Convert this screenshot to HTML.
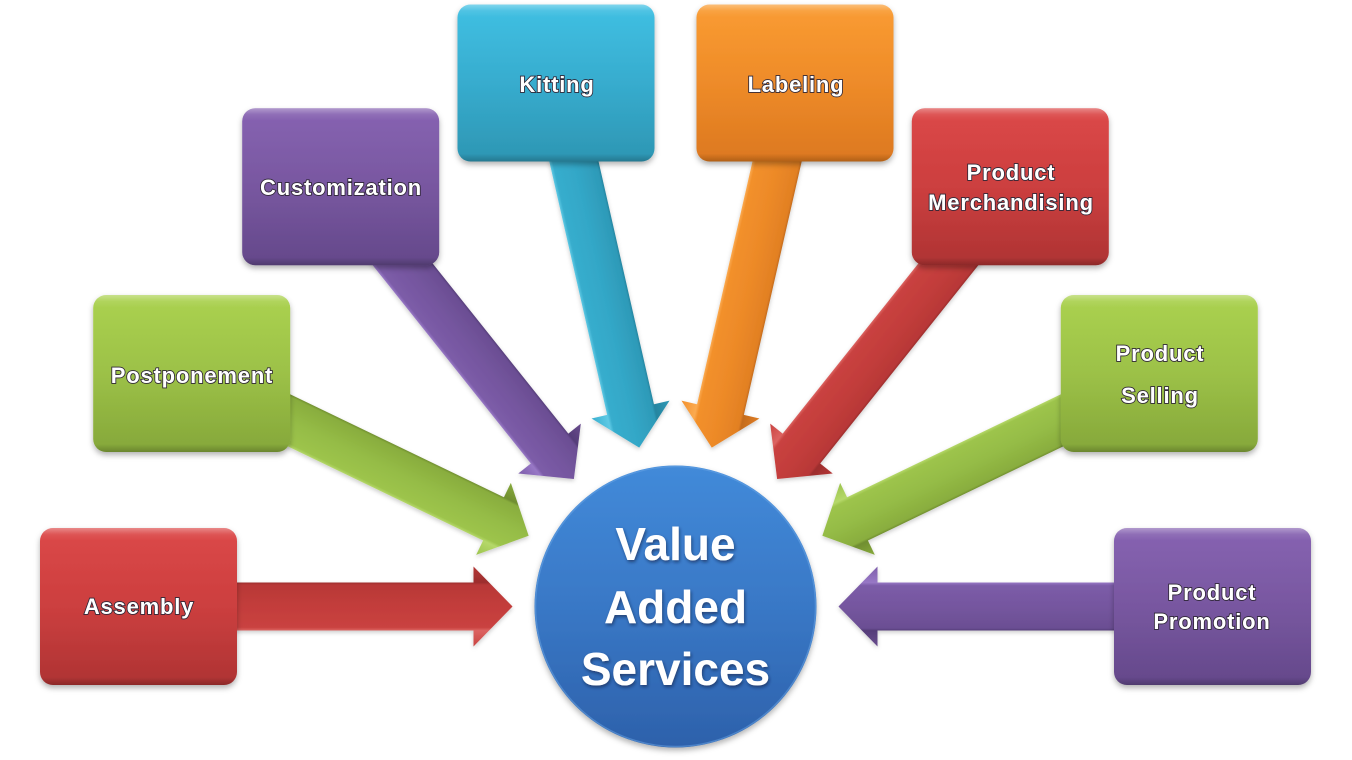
<!DOCTYPE html>
<html><head><meta charset="utf-8">
<style>
html,body{margin:0;padding:0;background:#ffffff;}
svg{display:block;}
.lbl{font-family:"Liberation Sans",Arial,sans-serif;font-weight:bold;font-size:22px;fill:#ffffff;stroke:#2e2636;stroke-width:1.7px;paint-order:stroke;letter-spacing:0.8px;text-anchor:middle;}
.big{font-family:"Liberation Sans",Arial,sans-serif;font-weight:bold;font-size:46px;fill:#ffffff;text-anchor:middle;}
</style></head><body>
<svg width="1352" height="760" viewBox="0 0 1352 760" xmlns="http://www.w3.org/2000/svg">
<defs>
  <filter id="sh" x="-20%" y="-20%" width="140%" height="150%">
    <feDropShadow dx="0" dy="3" stdDeviation="3" flood-color="#000" flood-opacity="0.3"/>
  </filter>
  <filter id="ash" x="-20%" y="-40%" width="140%" height="180%">
    <feDropShadow dx="0" dy="2" stdDeviation="2" flood-color="#000" flood-opacity="0.2"/>
  </filter>
  <filter id="tsh" x="-10%" y="-10%" width="120%" height="130%">
    <feDropShadow dx="1" dy="2" stdDeviation="1.5" flood-color="#0a2040" flood-opacity="0.6"/>
  </filter>

  <linearGradient id="aRed" gradientUnits="userSpaceOnUse" x1="0" y1="-40" x2="0" y2="40">
    <stop offset="0" stop-color="#c94341"/><stop offset="0.2" stop-color="#dc6361"/><stop offset="0.24" stop-color="#c94240"/>
    <stop offset="0.5" stop-color="#c33d3b"/><stop offset="0.77" stop-color="#b83837"/><stop offset="0.8" stop-color="#9c2d2d"/><stop offset="1" stop-color="#b43635"/>
  </linearGradient>
  <linearGradient id="aGreen" gradientUnits="userSpaceOnUse" x1="0" y1="-40" x2="0" y2="40">
    <stop offset="0" stop-color="#9cc44e"/><stop offset="0.2" stop-color="#b5d869"/><stop offset="0.24" stop-color="#9dc44c"/>
    <stop offset="0.5" stop-color="#95bc46"/><stop offset="0.77" stop-color="#89ad3e"/><stop offset="0.8" stop-color="#708e30"/><stop offset="1" stop-color="#88ab3d"/>
  </linearGradient>
  <linearGradient id="aPurple" gradientUnits="userSpaceOnUse" x1="0" y1="-40" x2="0" y2="40">
    <stop offset="0" stop-color="#7d5daa"/><stop offset="0.2" stop-color="#9878c6"/><stop offset="0.24" stop-color="#7c5ca8"/>
    <stop offset="0.5" stop-color="#75569f"/><stop offset="0.77" stop-color="#6b4e93"/><stop offset="0.8" stop-color="#553d79"/><stop offset="1" stop-color="#694c8e"/>
  </linearGradient>
  <linearGradient id="aTeal" gradientUnits="userSpaceOnUse" x1="0" y1="-40" x2="0" y2="40">
    <stop offset="0" stop-color="#38afcf"/><stop offset="0.2" stop-color="#5fc9e4"/><stop offset="0.24" stop-color="#37adcd"/>
    <stop offset="0.5" stop-color="#33a7c7"/><stop offset="0.77" stop-color="#2e9ab8"/><stop offset="0.8" stop-color="#2585a0"/><stop offset="1" stop-color="#2e98b5"/>
  </linearGradient>
  <linearGradient id="aOrange" gradientUnits="userSpaceOnUse" x1="0" y1="-40" x2="0" y2="40">
    <stop offset="0" stop-color="#f2902c"/><stop offset="0.2" stop-color="#fbaa50"/><stop offset="0.24" stop-color="#f2902b"/>
    <stop offset="0.5" stop-color="#ed8a28"/><stop offset="0.77" stop-color="#e28023"/><stop offset="0.8" stop-color="#c46b1d"/><stop offset="1" stop-color="#df7d23"/>
  </linearGradient>

  <linearGradient id="bRed" x1="0" y1="0" x2="0" y2="1">
    <stop offset="0" stop-color="#dc4848"/><stop offset="0.5" stop-color="#cc3f3f"/><stop offset="1" stop-color="#ae3333"/>
  </linearGradient>
  <linearGradient id="bGreen" x1="0" y1="0" x2="0" y2="1">
    <stop offset="0" stop-color="#abd250"/><stop offset="0.5" stop-color="#9cc147"/><stop offset="1" stop-color="#85a73a"/>
  </linearGradient>
  <linearGradient id="bPurple" x1="0" y1="0" x2="0" y2="1">
    <stop offset="0" stop-color="#8763b2"/><stop offset="0.5" stop-color="#7857a0"/><stop offset="1" stop-color="#64488a"/>
  </linearGradient>
  <linearGradient id="bTeal" x1="0" y1="0" x2="0" y2="1">
    <stop offset="0" stop-color="#40c0e3"/><stop offset="0.5" stop-color="#37acce"/><stop offset="1" stop-color="#2d96b3"/>
  </linearGradient>
  <linearGradient id="bOrange" x1="0" y1="0" x2="0" y2="1">
    <stop offset="0" stop-color="#fa9c32"/><stop offset="0.5" stop-color="#ee8b29"/><stop offset="1" stop-color="#dc781f"/>
  </linearGradient>
  <linearGradient id="bevel" x1="0" y1="0" x2="0" y2="1">
    <stop offset="0" stop-color="#ffffff" stop-opacity="0.35"/>
    <stop offset="0.04" stop-color="#ffffff" stop-opacity="0.08"/>
    <stop offset="0.08" stop-color="#ffffff" stop-opacity="0"/>
    <stop offset="0.95" stop-color="#000000" stop-opacity="0"/>
    <stop offset="1" stop-color="#000000" stop-opacity="0.2"/>
  </linearGradient>

  <linearGradient id="circ" x1="0" y1="0" x2="0" y2="1">
    <stop offset="0" stop-color="#428ad9"/><stop offset="0.5" stop-color="#3978c6"/><stop offset="1" stop-color="#2d61ab"/>
  </linearGradient>
</defs>

<g filter="url(#ash)">
  <g transform="translate(675.5,606.5) rotate(180)"><polygon points="163,0 202,-40 202,-24 537,-24 537,24 202,24 202,40" fill="url(#aRed)"/></g>
  <g transform="translate(675.5,606.5) rotate(205.714)"><polygon points="163,0 202,-40 202,-24 537,-24 537,24 202,24 202,40" fill="url(#aGreen)"/></g>
  <g transform="translate(675.5,606.5) rotate(231.429)"><polygon points="163,0 202,-40 202,-24 537,-24 537,24 202,24 202,40" fill="url(#aPurple)"/></g>
  <g transform="translate(675.5,606.5) rotate(257.143)"><polygon points="163,0 202,-40 202,-24 537,-24 537,24 202,24 202,40" fill="url(#aTeal)"/></g>
  <g transform="translate(675.5,606.5) rotate(282.857)"><polygon points="163,0 202,-40 202,-24 537,-24 537,24 202,24 202,40" fill="url(#aOrange)"/></g>
  <g transform="translate(675.5,606.5) rotate(308.571)"><polygon points="163,0 202,-40 202,-24 537,-24 537,24 202,24 202,40" fill="url(#aRed)"/></g>
  <g transform="translate(675.5,606.5) rotate(334.286)"><polygon points="163,0 202,-40 202,-24 537,-24 537,24 202,24 202,40" fill="url(#aGreen)"/></g>
  <g transform="translate(675.5,606.5) rotate(360)"><polygon points="163,0 202,-40 202,-24 537,-24 537,24 202,24 202,40" fill="url(#aPurple)"/></g>
</g>

<g filter="url(#sh)">
  <rect x="40" y="528" width="197" height="157" rx="13" fill="url(#bRed)"/>
  <rect x="93.2" y="295" width="197" height="157" rx="13" fill="url(#bGreen)"/>
  <rect x="242.2" y="108.2" width="197" height="157" rx="13" fill="url(#bPurple)"/>
  <rect x="457.5" y="4.5" width="197" height="157" rx="13" fill="url(#bTeal)"/>
  <rect x="696.5" y="4.5" width="197" height="157" rx="13" fill="url(#bOrange)"/>
  <rect x="911.8" y="108.2" width="197" height="157" rx="13" fill="url(#bRed)"/>
  <rect x="1060.8" y="295" width="197" height="157" rx="13" fill="url(#bGreen)"/>
  <rect x="1114" y="528" width="197" height="157" rx="13" fill="url(#bPurple)"/>
</g>
<g>
  <rect x="40" y="528" width="197" height="157" rx="13" fill="url(#bevel)"/>
  <rect x="93.2" y="295" width="197" height="157" rx="13" fill="url(#bevel)"/>
  <rect x="242.2" y="108.2" width="197" height="157" rx="13" fill="url(#bevel)"/>
  <rect x="457.5" y="4.5" width="197" height="157" rx="13" fill="url(#bevel)"/>
  <rect x="696.5" y="4.5" width="197" height="157" rx="13" fill="url(#bevel)"/>
  <rect x="911.8" y="108.2" width="197" height="157" rx="13" fill="url(#bevel)"/>
  <rect x="1060.8" y="295" width="197" height="157" rx="13" fill="url(#bevel)"/>
  <rect x="1114" y="528" width="197" height="157" rx="13" fill="url(#bevel)"/>
</g>

<text class="lbl" x="139" y="614">Assembly</text>
<text class="lbl" x="192" y="383">Postponement</text>
<text class="lbl" x="341" y="195">Customization</text>
<text class="lbl" x="557" y="92">Kitting</text>
<text class="lbl" x="796" y="92">Labeling</text>
<text class="lbl" x="1011" y="180">Product</text>
<text class="lbl" x="1011" y="210">Merchandising</text>
<text class="lbl" x="1160" y="361">Product</text>
<text class="lbl" x="1160" y="403">Selling</text>
<text class="lbl" x="1212" y="600">Product</text>
<text class="lbl" x="1212" y="629">Promotion</text>

<circle cx="675.5" cy="606.5" r="141" fill="url(#circ)" filter="url(#sh)"/>
<circle cx="675.5" cy="606.5" r="140" fill="none" stroke="#6aa6e6" stroke-opacity="0.5" stroke-width="1.5"/>
<g filter="url(#tsh)">
  <text class="big" x="675.5" y="560">Value</text>
  <text class="big" x="675.5" y="623">Added</text>
  <text class="big" x="675.5" y="685">Services</text>
</g>
</svg>
</body></html>
